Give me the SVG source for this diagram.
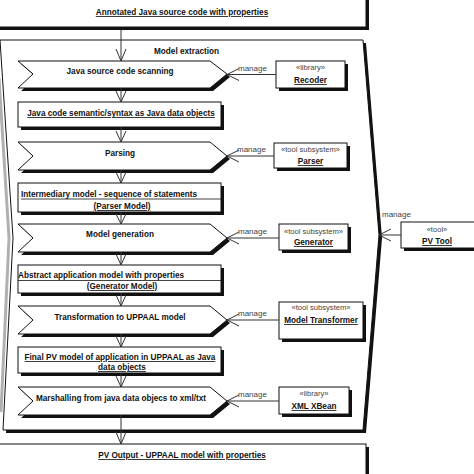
<svg xmlns="http://www.w3.org/2000/svg" width="474" height="474" viewBox="0 0 474 474">
<defs>
<style>
text{font-family:"Liberation Sans",Arial,sans-serif;fill:#111}
.b{font-weight:bold;font-size:8.2px}
.u{text-decoration:underline}
.st{font-size:7.6px;fill:#444}
.lbl{font-size:8px;fill:#444}
.sh{fill:#111;stroke:none}
.fr{fill:#fff;stroke:#111;stroke-width:1}
.cn{stroke:#333;stroke-width:1;fill:none}
.m{text-anchor:middle}
</style>
</defs>
<rect width="474" height="474" fill="#fff"/>

<g id="input">
<rect class="sh" x="-7" y="-7" width="376" height="37"/>
<rect class="fr" x="-10" y="-10" width="376" height="37"/>
<text class="b u m" x="182" y="15">Annotated Java source code with properties</text>
</g>

<g id="model-extraction">
<polygon class="sh" points="3,43 366,43 382,238 366,433 6,433 16,240"/>
<polygon class="fr" points="0,40 363,40 379,235 363,430 3,430 13,238"/>
<polyline points="-1,78 9,238 1,412" fill="none" stroke="#b0b0b0" stroke-width="3"/>
<text class="b" x="154" y="54">Model extraction</text>
</g>

<g id="output">
<rect class="sh" x="-7" y="447" width="376" height="37"/>
<rect class="fr" x="-10" y="444" width="376" height="37"/>
<text class="b u m" x="182" y="458">PV Output - UPPAAL model with properties</text>
</g>

<g id="scanning">
<polygon class="sh" points="21,64 213,64 230,77 213,91 21,91 36,77"/>
<polygon class="fr" points="18,61 210,61 227,74 210,88 18,88 33,74"/>
<text class="b m" x="120" y="74">Java source code scanning</text>
</g>

<g id="java-objects">
<rect class="sh" x="21" y="105" width="203" height="25"/>
<rect class="fr" x="18" y="102" width="203" height="25"/>
<text class="b u m" x="121" y="116">Java code semantic/syntax as Java data objects</text>
</g>

<g id="parsing">
<polygon class="sh" points="21,145 213,145 230,159 213,173 21,173 36,159"/>
<polygon class="fr" points="18,142 210,142 227,156 210,170 18,170 33,156"/>
<text class="b m" x="120" y="156">Parsing</text>
</g>

<g id="parser-model">
<rect class="sh" x="21" y="186" width="203" height="29"/>
<rect class="fr" x="18" y="183" width="203" height="29"/>
<text class="b" x="21" y="197">Intermediary model - sequence of statements</text>
<line x1="21" y1="199" x2="221" y2="199" stroke="#111" stroke-width="0.8"/>
<text class="b u m" x="122" y="209">(Parser Model)</text>
</g>

<g id="generation">
<polygon class="sh" points="21,227 213,227 230,241 213,255 21,255 36,241"/>
<polygon class="fr" points="18,224 210,224 227,238 210,252 18,252 33,238"/>
<text class="b m" x="120" y="237">Model generation</text>
</g>

<g id="generator-model">
<rect class="sh" x="21" y="268" width="203" height="28"/>
<rect class="fr" x="18" y="265" width="203" height="28"/>
<text class="b" x="18" y="278">Abstract application model with properties</text>
<line x1="18" y1="280.5" x2="221" y2="280.5" stroke="#111" stroke-width="0.8"/>
<text class="b u m" x="122" y="289">(Generator Model)</text>
</g>

<g id="transformation">
<polygon class="sh" points="21,309 213,309 230,323 213,337 21,337 36,323"/>
<polygon class="fr" points="18,306 210,306 227,320 210,334 18,334 33,320"/>
<text class="b m" x="120" y="320">Transformation  to UPPAAL model</text>
</g>

<g id="final-model">
<rect class="sh" x="21" y="350" width="203" height="26"/>
<rect class="fr" x="18" y="347" width="203" height="26"/>
<text class="b u m" x="120" y="360">Final PV model of application in UPPAAL as Java</text>
<text class="b u m" x="122" y="370">data objects</text>
</g>

<g id="marshalling">
<polygon class="sh" points="21,390 213,390 230,404 213,418 21,418 36,404"/>
<polygon class="fr" points="18,387 210,387 227,401 210,415 18,415 33,401"/>
<text class="b m" x="121" y="401">Marshalling from java data objecs to xml/txt</text>
</g>

<g id="recoder">
<rect class="sh" x="279" y="64" width="69" height="27"/>
<rect class="fr" x="276" y="61" width="69" height="27"/>
<text class="st m" x="310.5" y="70">«library»</text>
<text class="b u m" x="310.5" y="83">Recoder</text>
</g>

<g id="parser">
<rect class="sh" x="277" y="146" width="73" height="25"/>
<rect class="fr" x="274" y="143" width="73" height="25"/>
<text class="st m" x="310.5" y="152">«tool subsystem»</text>
<text class="b u m" x="310.5" y="164">Parser</text>
</g>

<g id="generator">
<rect class="sh" x="282" y="227" width="69" height="26"/>
<rect class="fr" x="279" y="224" width="69" height="26"/>
<text class="st m" x="313.5" y="234">«tool subsystem»</text>
<text class="b u m" x="313.5" y="245">Generator</text>
</g>

<g id="model-transformer">
<rect class="sh" x="282" y="305" width="84" height="37"/>
<rect class="fr" x="279" y="302" width="84" height="37"/>
<text class="st m" x="321" y="310">«tool subsystem»</text>
<text class="b u m" x="321" y="323">Model Transformer</text>
</g>

<g id="xbean">
<rect class="sh" x="282" y="390" width="70" height="27"/>
<rect class="fr" x="279" y="387" width="70" height="27"/>
<text class="st m" x="314" y="396">«library»</text>
<text class="b u m" x="314" y="409">XML XBean</text>
</g>

<g id="pv-tool">
<rect class="sh" x="404" y="225" width="80" height="26"/>
<rect class="fr" x="401" y="222" width="80" height="26"/>
<text class="st m" x="437" y="232">«tool»</text>
<text class="b u m" x="437" y="244">PV Tool</text>
</g>

<g id="connectors">
<path class="cn" d="M121,30V61M116,49L121,61L126,49"/>
<path class="cn" d="M121,88V102M116,91L121,102L126,91"/>
<path class="cn" d="M121,127V142M116,131L121,142L126,131"/>
<path class="cn" d="M121,170V183M116,172L121,183L126,172"/>
<path class="cn" d="M121,212V224M116,214L121,224L126,214"/>
<path class="cn" d="M121,252V265M116,254L121,265L126,254"/>
<path class="cn" d="M121,293V306M116,295L121,306L126,295"/>
<path class="cn" d="M121,334V347M116,336L121,347L126,336"/>
<path class="cn" d="M121,373V387M116,376L121,387L126,376"/>
<path class="cn" d="M121,415V444M116,432L121,444L126,432"/>

<path class="cn" d="M276,74.5H227M239,68.5L227,74.5L239,80.5"/>
<text class="lbl" x="238" y="71">manage</text>
<path class="cn" d="M274,156H227M239,150L227,156L239,162"/>
<text class="lbl" x="237" y="152">manage</text>
<path class="cn" d="M279,238H227M239,232L227,238L239,244"/>
<text class="lbl" x="238" y="234">manage</text>
<path class="cn" d="M279,320H227M239,314L227,320L239,326"/>
<text class="lbl" x="238" y="316">manage</text>
<path class="cn" d="M279,401H227M239,395L227,401L239,407"/>
<text class="lbl" x="238" y="397">manage</text>
<path class="cn" d="M401,235H379M391,229L379,235L391,241"/>
<text class="lbl" x="382" y="217">manage</text>
</g>
</svg>
